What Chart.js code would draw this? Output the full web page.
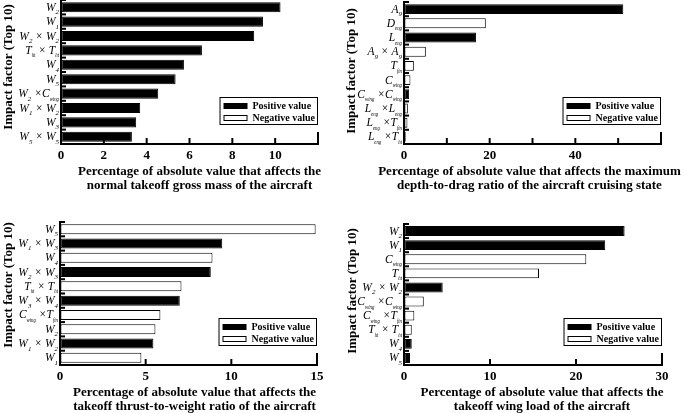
<!DOCTYPE html>
<html>
<head>
<meta charset="utf-8">
<script src="https://cdn.jsdelivr.net/npm/chart.js@4.4.1/dist/chart.umd.min.js"></script>
<style>
  html, body { margin: 0; padding: 0; background: #fff; }
  body { width: 685px; height: 413px; position: relative; overflow: hidden; }
  canvas { position: absolute; }
</style>
</head>
<body>
<canvas id="c-mass"   width="340" height="205" style="left:0;top:0"></canvas>
<canvas id="c-ld"     width="345" height="205" style="left:340px;top:0"></canvas>
<canvas id="c-thrust" width="340" height="208" style="left:0;top:205px"></canvas>
<canvas id="c-wing"   width="345" height="208" style="left:340px;top:205px"></canvas>
<script>
// ─── data (1 = positive value, -1 = negative value) ───
const massFactors = ['W_2', 'W_1', 'W_2 × W_2', 'T_{ht} × T_{ht}', 'W_4', 'W_5', 'W_2 ×C_{wing}', 'W_1 × W_2', 'W_3', 'W_5 × W_5'];
const massValues  = [10.25, 9.43, 9.02, 6.58, 5.74, 5.35, 4.54, 3.70, 3.51, 3.31];
const massSigns   = [1, 1, 1, 1, 1, 1, 1, 1, 1, 1];
const massTicks   = [0, 2, 4, 6, 8, 10];

const ldFactors = ['A_9', 'D_{eng}', 'L_{eng}', 'A_9 × A_9', 'T_{fin}', 'C_{wing}', 'C_{wing} ×C_{wing}', 'L_{eng} ×L_{eng}', 'L_{eng} ×T_{fin}', 'L_{eng} ×T_{ht}'];
const ldValues  = [51.2, 19.1, 16.8, 5.1, 2.3, 1.5, 1.2, 0.9, 0.8, 0.4];
const ldSigns   = [1, -1, 1, -1, -1, -1, 1, -1, -1, 1];
const ldTicks   = [0, 20, 40];

const thrustFactors = ['W_5', 'W_1 × W_3', 'W_4', 'W_2 × W_3', 'T_{ht} × T_{ht}', 'W_3 × W_4', 'C_{wing} ×T_{fin}', 'W_2', 'W_1 × W_2', 'W_1'];
const thrustValues  = [14.92, 9.47, 8.9, 8.8, 7.09, 6.99, 5.86, 5.57, 5.45, 4.75];
const thrustSigns   = [-1, 1, -1, 1, -1, 1, -1, -1, 1, -1];
const thrustTicks   = [0, 5, 10, 15];

const wingFactors = ['W_2', 'W_1', 'C_{wing}', 'T_{ht}', 'W_2 × W_2', 'C_{wing} ×C_{wing}', 'C_{wing} ×T_{fin}', 'T_{ht} × T_{ht}', 'W_4', 'W_5'];
const wingValues  = [25.65, 23.4, 21.2, 15.7, 4.5, 2.3, 1.2, 0.9, 0.9, 0.7];
const wingSigns   = [1, 1, -1, -1, 1, -1, -1, -1, 1, 1];
const wingTicks   = [0, 10, 20, 30];

const yTitle = 'Impact factor (Top 10)';
const legendNames = ['Positive value', 'Negative value'];

const SERIF = '"Liberation Serif", "Times New Roman", serif';

// label like "T_{ht} × T_{ht}" -> pieces with subscripts
function splitFactor(label) {
  const parts = [];
  let buf = '';
  for (let i = 0; i < label.length; i++) {
    const ch = label[i];
    if (ch === '_') {
      if (buf) { parts.push({ t: buf, sub: false }); buf = ''; }
      let s;
      if (label[i + 1] === '{') {
        const end = label.indexOf('}', i);
        s = label.slice(i + 2, end);
        i = end;
      } else {
        s = label[i + 1];
        i++;
      }
      parts.push({ t: s, sub: true });
    } else buf += ch;
  }
  if (buf) parts.push({ t: buf, sub: false });
  return parts;
}

function drawFactor(ctx, label, xRight, yMid) {
  const parts = splitFactor(label);
  let w = 0;
  parts.forEach(p => {
    const long = p.sub && p.t.length > 1;
    p.font = !p.sub ? 'italic 11.5px ' + SERIF : long ? 'italic 6px ' + SERIF : 'italic 7px ' + SERIF;
    p.sx = long ? 0.8 : 1;   // long subscripts are squeezed
    ctx.font = p.font;
    p.w = ctx.measureText(p.t).width * p.sx;
    w += p.w;
  });
  let x = xRight - w;
  ctx.textAlign = 'left';
  ctx.textBaseline = 'alphabetic';
  parts.forEach(p => {
    ctx.font = p.font;
    ctx.save();
    ctx.translate(x, yMid + (p.sub ? 7 : 3.5));
    ctx.scale(p.sx, 1);
    ctx.fillText(p.t, 0, 0);
    ctx.restore();
    x += p.w;
  });
}

const decor = {
  id: 'decor',
  afterDraw(chart, args, o) {
    const { ctx, chartArea: a, scales: { x, y } } = chart;
    ctx.save();
    ctx.fillStyle = '#000';
    ctx.strokeStyle = '#000';
    ctx.lineWidth = 2;

    // inward tick marks on the value axis
    x.ticks.forEach(t => {
      const px = x.getPixelForValue(t.value);
      const len = t.value === x.max ? 12 : 6;
      ctx.beginPath(); ctx.moveTo(px, a.bottom); ctx.lineTo(px, a.bottom - len); ctx.stroke();
    });

    // category ticks + factor labels
    const labels = y.getLabels();
    labels.forEach((lab, i) => {
      const py = y.getPixelForValue(i - 0.5);
      ctx.beginPath(); ctx.moveTo(a.left, py); ctx.lineTo(a.left + 5, py); ctx.stroke();
      drawFactor(ctx, lab, a.left - 2, y.getPixelForValue(i));
    });

    // y title
    ctx.save();
    ctx.translate(o.yTitleX, o.yTitleY);
    ctx.rotate(-Math.PI / 2);
    ctx.font = 'bold 13px ' + SERIF;
    ctx.textAlign = 'center';
    ctx.textBaseline = 'middle';
    ctx.fillText(yTitle, 0, 0);
    ctx.restore();

    // x title (two lines)
    ctx.font = 'bold 13px ' + SERIF;
    ctx.textAlign = 'center';
    ctx.textBaseline = 'alphabetic';
    const cx = (a.left + a.right) / 2 + o.titleDx;
    o.xTitle.forEach((line, i) => ctx.fillText(line, cx, a.bottom + 31 + i * 14));

    // legend box
    ctx.font = 'bold 10px ' + SERIF;
    const tw = Math.max(...legendNames.map(s => ctx.measureText(s).width));
    const bw = 4 + 24 + 5 + tw + 3, bh = 28;
    const bx = a.right - bw, by = a.bottom - 19 - bh;
    ctx.fillStyle = '#fff';
    ctx.fillRect(bx, by, bw, bh);
    ctx.lineWidth = 1;
    ctx.strokeRect(bx + 0.5, by + 0.5, bw - 1, bh - 1);
    ctx.textAlign = 'left';
    ctx.textBaseline = 'middle';
    legendNames.forEach((name, i) => {
      const ry = by + 9 + i * 12;
      if (i === 0) { ctx.fillStyle = '#000'; ctx.fillRect(bx + 4, ry - 3, 24, 6); }
      else { ctx.fillStyle = '#fff'; ctx.fillRect(bx + 4, ry - 3, 24, 6); ctx.strokeRect(bx + 4.5, ry - 2.5, 23, 5); }
      ctx.fillStyle = '#000';
      ctx.fillText(name, bx + 33, ry);
    });
    ctx.restore();
  }
};

function makePanel(id, factors, values, signs, ticks, cfg) {
  const canvas = document.getElementById(id);
  const W = canvas.width, H = canvas.height;
  const pos = values.map((v, i) => signs[i] > 0 ? v : null);
  const neg = values.map((v, i) => signs[i] < 0 ? v : null);
  return new Chart(canvas, {
    type: 'bar',
    data: {
      labels: factors,
      datasets: [
        { label: legendNames[0], data: pos, backgroundColor: '#000', borderColor: '#000', borderWidth: 1, borderSkipped: false },
        { label: legendNames[1], data: neg, backgroundColor: '#fff', borderColor: '#000', borderWidth: 1, borderSkipped: false }
      ]
    },
    options: {
      indexAxis: 'y',
      responsive: false,
      animation: false,
      grouped: false,
      barPercentage: 0.7,
      categoryPercentage: 1,
      layout: { padding: { left: 0, top: cfg.top, right: W - cfg.right, bottom: 0 } },
      plugins: {
        legend: { display: false },
        tooltip: { enabled: false },
        decor: cfg
      },
      scales: {
        x: {
          type: 'linear', min: 0, max: cfg.max,
          ticks: {
            stepSize: cfg.step, autoSkip: false, maxRotation: 0, padding: 4,
            color: '#000', font: { family: SERIF, size: 13, weight: 'bold' },
            callback: v => ticks.includes(v) ? v : ''
          },
          grid: { display: true, drawOnChartArea: false, drawTicks: false },
          border: { display: true, color: '#000', width: 2 },
          afterFit: s => { s.height = H - cfg.bottom; }
        },
        y: {
          type: 'category', offset: true,
          ticks: { display: false },
          grid: { display: true, drawOnChartArea: false, drawTicks: false },
          border: { display: true, color: '#000', width: 2 },
          afterFit: s => { s.width = cfg.left; }
        }
      }
    },
    plugins: [decor]
  });
}

makePanel('c-mass', massFactors, massValues, massSigns, massTicks, {
  left: 61, right: 318, top: 0, bottom: 144, max: 12, step: 2,
  yTitleX: 9, yTitleY: 67, titleDx: 10,
  xTitle: ['Percentage of absolute value that affects the', 'normal takeoff gross mass of the aircraft']
});
makePanel('c-ld', ldFactors, ldValues, ldSigns, ldTicks, {
  left: 64, right: 321, top: 2, bottom: 144, max: 60, step: 10,
  yTitleX: 12, yTitleY: 71, titleDx: -3,
  xTitle: ['Percentage of absolute value that affects the maximum', 'depth-to-drag ratio of the aircraft cruising state']
});
makePanel('c-thrust', thrustFactors, thrustValues, thrustSigns, thrustTicks, {
  left: 60, right: 317, top: 17, bottom: 160, max: 15, step: 5,
  yTitleX: 9, yTitleY: 80, titleDx: 6,
  xTitle: ['Percentage of absolute value that affects the', 'takeoff thrust-to-weight ratio of the aircraft']
});
makePanel('c-wing', wingFactors, wingValues, wingSigns, wingTicks, {
  left: 64, right: 322, top: 19, bottom: 160, max: 30, step: 10,
  yTitleX: 13, yTitleY: 86, titleDx: 9,
  xTitle: ['Percentage of absolute value that affects the', 'takeoff wing load of the aircraft']
});
</script>
</body>
</html>
